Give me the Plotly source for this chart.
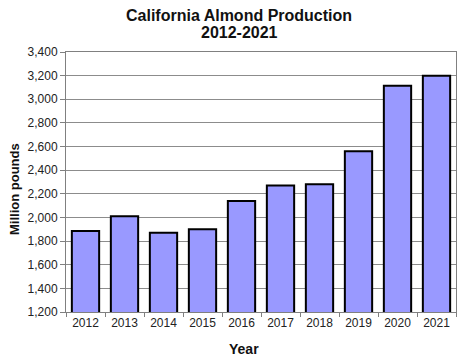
import plotly.graph_objects as go

years = ["2012", "2013", "2014", "2015", "2016", "2017", "2018", "2019", "2020", "2021"]
production = [1885, 2010, 1870, 1900, 2140, 2270, 2280, 2560, 3115, 3200]
y_ticks = list(range(1200, 3401, 200))
y_tick_labels = [f"{v:,}" for v in y_ticks]

FONT = "Liberation Sans, Arial, sans-serif"

W, H = 458, 360
L, R, T, B = 66, 2, 52, 48
plot_w = W - L - R
plot_h = H - T - B


def px_x(x):
    return (x - L) / plot_w


def px_y(y):
    return (H - B - y) / plot_h


fig = go.Figure(go.Bar(
    x=years, y=production,
    marker=dict(color="#9999FF", line=dict(color="#000000", width=2)),
))

title_font = dict(size=16, color="#111111")
fig.update_layout(
    width=W, height=H,
    margin=dict(l=L, r=R, t=T, b=B),
    paper_bgcolor="white", plot_bgcolor="white",
    bargap=0.3,
    showlegend=False,
    font=dict(family=FONT, size=12, color="#222222"),
    annotations=[
        dict(text="<b>California Almond Production</b>", x=px_x(239), y=px_y(15),
             xref="paper", yref="paper", xanchor="center", yanchor="middle",
             showarrow=False, font=title_font),
        dict(text="<b>2012-2021</b>", x=px_x(239), y=px_y(32),
             xref="paper", yref="paper", xanchor="center", yanchor="middle",
             showarrow=False, font=title_font),
        dict(text="<b>Year</b>", x=px_x(244), y=px_y(349),
             xref="paper", yref="paper", xanchor="center", yanchor="middle",
             showarrow=False, font=dict(size=14, color="#111111")),
        dict(text="<b>Million pounds</b>", textangle=-90, x=px_x(14), y=px_y(189),
             xref="paper", yref="paper", xanchor="center", yanchor="middle",
             showarrow=False, font=dict(size=13, color="#111111")),
    ],
)

fig.update_xaxes(
    type="category", tickson="boundaries", ticks="outside", ticklen=4, tickcolor="#808080",
    showline=True, linecolor="#808080", linewidth=1, mirror=True,
    showgrid=False, tickfont=dict(size=12, color="#222222"),
)
fig.update_yaxes(
    range=[1200, 3400], tickvals=y_ticks, ticktext=y_tick_labels,
    ticks="outside", ticklen=5, tickcolor="#808080",
    showline=True, linecolor="#808080", linewidth=1, mirror=True,
    showgrid=True, gridcolor="#8c8c8c", gridwidth=1, zeroline=False,
    tickfont=dict(size=12, color="#222222"),
)

fig.write_html("out.html", config={"displayModeBar": False},
               post_script="document.body.style.margin='0';")
